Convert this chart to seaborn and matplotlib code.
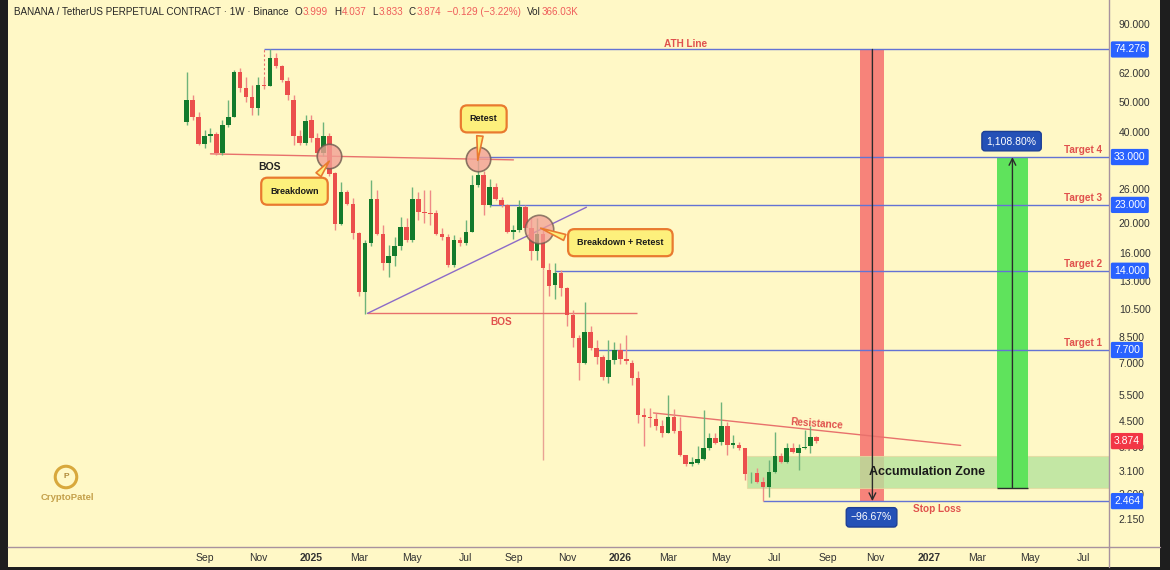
import numpy as np
import pandas as pd
import matplotlib
matplotlib.use("Agg")
import matplotlib.pyplot as plt
import matplotlib.dates as mdates
from matplotlib.patches import Rectangle
from matplotlib.lines import Line2D
from matplotlib.ticker import NullLocator
import seaborn as sns

# ---------------- data ----------------
first_week = "2024-08-12"
open_ = [43.1, 50.7, 44.7, 36.3, 38.8, 39.2, 33.9, 42.0, 44.7, 62.5,
         55.4, 52.0, 47.7, 56.8, 56.5, 69.7, 65.6, 58.5, 50.7, 38.8,
         36.8, 43.6, 38.0, 33.9, 38.7, 29.2, 19.9, 25.3, 23.2, 18.6,
         11.9, 17.3, 24.0, 18.5, 14.8, 15.6, 16.9, 19.5, 17.7, 24.1,
         21.8, 21.6, 21.6, 18.5, 18.0, 14.6, 17.7, 17.2, 18.8, 26.7,
         28.8, 23.0, 26.3, 23.9, 22.9, 18.8, 19.0, 22.6, 19.3, 16.2,
         18.5, 14.1, 12.6, 13.8, 12.3, 10.0, 8.4, 7.0, 8.85, 7.8,
         7.33, 6.3, 7.15, 7.7, 7.2, 7.0, 6.25, 4.72, 4.64, 4.58,
         4.35, 4.13, 4.66, 4.17, 3.48, 3.27, 3.29, 3.38, 3.67, 3.96,
         3.85, 4.35, 3.77, 3.77, 3.67, 3.04, 3.04, 2.85, 2.75, 3.07,
         3.45, 3.31, 3.67, 3.55, 3.69, 3.72, 3.999]
high = [62.8, 52.7, 46.5, 40.5, 41.1, 40.0, 43.6, 50.7, 63.6, 64.4,
        60.3, 56.8, 60.3, 60.0, 74.28, 72.5, 66.1, 60.3, 52.7, 40.5,
        45.3, 45.3, 39.5, 43.1, 39.5, 29.5, 27.3, 25.7, 24.2, 18.8,
        17.6, 27.7, 25.7, 19.8, 17.0, 18.1, 21.0, 20.9, 26.3, 25.3,
        25.7, 25.7, 22.1, 19.3, 18.5, 18.3, 18.0, 20.5, 28.8, 32.5,
        29.6, 28.0, 27.1, 24.5, 23.2, 19.8, 23.9, 23.0, 20.9, 20.9,
        19.3, 14.8, 14.8, 14.1, 12.4, 10.4, 8.6, 11.1, 9.2, 8.3,
        7.43, 8.3, 8.2, 8.1, 8.6, 7.15, 6.55, 4.97, 4.97, 4.79,
        4.55, 5.49, 4.94, 4.66, 3.50, 3.43, 3.72, 4.90, 4.12, 4.12,
        5.22, 4.49, 4.06, 3.86, 3.67, 3.07, 3.17, 2.96, 3.36, 4.16,
        3.53, 3.81, 3.81, 3.79, 4.22, 4.33, 4.037]
low = [42.0, 43.6, 36.1, 35.2, 37.0, 33.5, 33.5, 41.5, 44.5, 54.0,
       50.0, 45.3, 45.3, 55.0, 56.2, 64.5, 58.2, 50.7, 36.1, 36.1,
       36.1, 37.0, 32.7, 33.3, 28.5, 19.0, 19.8, 23.0, 17.8, 11.6,
       10.1, 16.9, 18.3, 14.1, 13.4, 14.5, 16.4, 17.4, 17.4, 20.5,
       20.0, 19.8, 18.3, 17.6, 14.4, 14.4, 16.9, 17.0, 18.7, 26.4,
       21.3, 22.7, 23.8, 22.7, 18.6, 17.8, 18.8, 19.0, 15.2, 15.2,
       14.1, 11.55, 11.3, 11.55, 9.2, 7.9, 6.15, 6.95, 7.7, 6.95,
       6.15, 6.0, 6.95, 6.95, 6.95, 5.92, 4.44, 3.72, 4.32, 4.22,
       4.01, 4.11, 4.11, 3.45, 3.2, 3.20, 3.26, 3.36, 3.61, 3.80,
       3.77, 3.49, 3.67, 3.63, 2.89, 2.82, 2.82, 2.464, 2.55, 3.04,
       3.28, 3.28, 3.55, 3.12, 3.65, 3.54, 3.833]
close = [50.7, 44.7, 36.3, 38.8, 39.2, 33.9, 42.0, 44.7, 62.5, 55.4,
         52.0, 47.7, 56.8, 56.2, 69.7, 65.6, 59.0, 52.7, 38.8, 36.6,
         43.2, 38.0, 33.9, 38.7, 29.1, 19.9, 25.3, 23.2, 18.6, 11.9,
         17.3, 24.0, 18.5, 14.8, 15.6, 16.9, 19.5, 17.7, 24.1, 21.8,
         21.6, 21.5, 18.5, 18.0, 14.6, 17.7, 17.2, 18.8, 26.7, 28.8,
         23.0, 26.3, 24.0, 22.9, 18.8, 19.0, 22.6, 19.3, 16.2, 18.5,
         14.3, 12.5, 13.8, 12.3, 10.0, 8.4, 7.0, 8.85, 7.8, 7.33,
         6.3, 7.15, 7.7, 7.2, 7.1, 6.25, 4.72, 4.64, 4.61, 4.35,
         4.13, 4.66, 4.17, 3.48, 3.26, 3.32, 3.38, 3.67, 3.96, 3.83,
         4.35, 3.77, 3.81, 3.67, 3.02, 3.05, 2.85, 2.75, 3.07, 3.45,
         3.31, 3.67, 3.56, 3.67, 3.71, 3.999, 3.874]

ath_price = 74.276
ath_start = "2024-11-11"
target_prices = [7.7, 14.0, 23.0, 33.0]
target_names = ["Target 1", "Target 2", "Target 3", "Target 4"]
target_starts = ["2025-12-08", "2025-10-20", "2025-08-04", "2025-07-21"]
stop_loss = 2.464
stop_start = "2026-06-22"
last_price = 3.874
zone_low, zone_high, zone_start = 2.73, 3.46, "2026-06-03"
drop_label, gain_label = "\u221296.67%", "1,108.80%"
ytick_vals = [90, 62, 50, 40, 26, 20, 16, 13, 10.5, 8.5, 7, 5.5, 4.5, 3.7, 3.1, 2.6, 2.15]
header_parts = [("BANANA / TetherUS PERPETUAL CONTRACT \u00b7 1W \u00b7 Binance", "k"),
                ("O", "k"), ("3.999", "r"), ("H", "k"), ("4.037", "r"),
                ("L", "k"), ("3.833", "r"), ("C", "k"), ("3.874", "r"),
                ("\u22120.129 (\u22123.22%)", "r"), ("Vol", "k"), ("366.03K", "r")]

# ---------------- style ----------------
sns.set_theme(style="white")
plt.rcParams["font.family"] = ["Liberation Sans", "DejaVu Sans"]

W, H = 1170, 570
CREAM = "#FFF8C6"
RED_C = "#EB4F4C"
GREEN_C = "#137A2C"
RED_W = "#EE8A86"
GREEN_W = "#6FB37A"
TXT_RED = "#E0514D"
BLUE_L = "#6373D4"
LINE_RED = "#E8716C"
SEP = "#A8929E"
YEL = "#FDF07C"
ORG = "#E97A2F"
TAG_BLUE = "#2962FF"

fig = plt.figure(figsize=(W / 100, H / 100), dpi=100)
fig.patch.set_facecolor("#1E1E1E")
fig.patches.append(Rectangle((8 / W, 3 / H), 1152 / W, 567 / H, transform=fig.transFigure,
                             facecolor=CREAM, edgecolor="none", zorder=-5))
ax = fig.add_axes([8 / W, 23 / H, 1101 / W, 547 / H])
ax.set_facecolor(CREAM)

dates = pd.date_range(first_week, periods=len(close), freq="7D")
xd = mdates.date2num(dates)
def dn(s):
    return mdates.date2num(pd.Timestamp(s))

o = np.array(open_); c = np.array(close); h = np.array(high); l = np.array(low)
up = c >= o
cols = np.where(up, GREEN_C, RED_C)
wcols = np.where(up, GREEN_W, RED_W)

# candles
ax.vlines(xd, l, h, colors=wcols, lw=1.0, zorder=4)
ax.bar(xd, np.abs(c - o), bottom=np.minimum(o, c), width=5.3, color=cols, linewidth=0, zorder=5)

ax.set_yscale("log")
x0 = xd[0]
ax.set_xlim(x0 - 210.6, x0 + 1086.8)
ax.set_ylim(1.743, 107.85)

# ---- horizontal level lines ----
ax.hlines(ath_price, dn(ath_start), ax.get_xlim()[1], color=BLUE_L, lw=1.0, zorder=3)
ax.vlines(dn(ath_start), 57.5, ath_price, color=LINE_RED, lw=0.8, ls=(0, (2, 2)), zorder=3)
ax.text(dn("2026-03-23"), 77.6, "ATH Line", color=TXT_RED, fontsize=7.2, fontweight="bold",
        ha="center", va="center")
for p, nm, st in zip(target_prices, target_names, target_starts):
    ax.hlines(p, dn(st), ax.get_xlim()[1], color=BLUE_L, lw=1.0, zorder=3)
    ax.text(dn("2027-07-27"), p * 1.055, nm, color=TXT_RED, fontsize=7.2, fontweight="bold",
            ha="right", va="center")
ax.hlines(stop_loss, dn(stop_start), ax.get_xlim()[1], color=BLUE_L, lw=1.0, zorder=3)
ax.text(dn("2027-01-13"), 2.32, "Stop Loss", color=TXT_RED, fontsize=7.2, fontweight="bold",
        ha="center", va="center")

# BOS lines
ax.plot([dn("2024-09-09"), dn("2025-09-01")], [33.8, 32.3], color=LINE_RED, lw=1.0, zorder=3)
ax.text(dn("2024-11-18"), 30.6, "BOS", color="#222222", fontsize=7.5, fontweight="bold",
        ha="center", va="center")
ax.hlines(10.15, dn("2025-03-13"), dn("2026-01-25"), color=LINE_RED, lw=1.0, zorder=3)
ax.text(dn("2025-08-18"), 9.5, "BOS", color=TXT_RED, fontsize=7.2, fontweight="bold",
        ha="center", va="center")
# rising trend line
ax.plot([dn("2025-03-13"), dn("2025-11-26")], [10.15, 22.6], color="#8C6BC8", lw=1.0, zorder=3)
# vertical breakdown marker
ax.vlines(dn("2025-10-06"), 3.36, 14.1, color="#E9A293", lw=1.0, zorder=2)
# resistance
ax.plot([dn("2026-02-13"), dn("2027-02-10")], [4.79, 3.75], color=LINE_RED, lw=1.0, zorder=3)
ax.text(dn("2026-08-25"), 4.41, "Resistance", color=TXT_RED, fontsize=7.2, fontweight="bold",
        ha="center", va="center", rotation=-4)

# ---- zones / measure bars ----
ax.bar(dn("2026-10-29"), ath_price - stop_loss, bottom=stop_loss, width=28.3,
       color="#F7837A", linewidth=0, zorder=1)
ax.add_patch(Rectangle((dn(zone_start), zone_low), ax.get_xlim()[1] - dn(zone_start),
                       zone_high - zone_low, facecolor="#B5E39C", alpha=0.8,
                       edgecolor="#E6D9A0", lw=0.8, zorder=1.5))
gain_bottom = target_prices[-1] / (1 + 11.088)
ax.bar(dn("2027-04-12"), target_prices[-1] - gain_bottom, bottom=gain_bottom, width=36.5,
       color="#5FE35C", linewidth=0, zorder=2)
ax.hlines(gain_bottom, dn("2027-03-25"), dn("2027-04-30"), color="#2B2B2B", lw=1.0, zorder=3)
ax.annotate("", xy=(dn("2026-10-29"), stop_loss), xytext=(dn("2026-10-29"), ath_price),
            arrowprops=dict(arrowstyle="->", color="#2B2B2B", lw=1.0, shrinkA=0, shrinkB=0), zorder=3)
ax.annotate("", xy=(dn("2027-04-12"), target_prices[-1]), xytext=(dn("2027-04-12"), gain_bottom),
            arrowprops=dict(arrowstyle="->", color="#2B2B2B", lw=1.0, shrinkA=0, shrinkB=0), zorder=3)
ax.text(dn("2027-01-01"), 3.07, "Accumulation Zone", color="#1A1A1A", fontsize=9,
        fontweight="bold", ha="center", va="center", zorder=6)
ax.text(dn("2026-10-28"), 2.18, drop_label, color="white", fontsize=7.5, ha="center", va="center",
        bbox=dict(boxstyle="round,pad=0.45,rounding_size=0.3", fc="#2451B7", ec="#1D3F96"), zorder=7)
ax.text(dn("2027-04-11"), 37.2, gain_label, color="white", fontsize=7.5, ha="center", va="center",
        bbox=dict(boxstyle="round,pad=0.45,rounding_size=0.3", fc="#2451B7", ec="#1D3F96"), zorder=7)

# ---- circles ----
circ = pd.DataFrame({"x": [dn("2025-01-27"), dn("2025-07-21")], "y": [33.2, 32.5]})
sns.scatterplot(data=circ, x="x", y="y", s=310, color="#F2A095", edgecolor="#6E5A4E",
                linewidth=1.2, alpha=0.8, zorder=6, ax=ax, legend=False)
sns.scatterplot(x=[dn("2025-10-01")], y=[19.2], s=420, color="#F2A095", edgecolor="#6E5A4E",
                linewidth=1.2, alpha=0.75, zorder=6, ax=ax, legend=False)

# ---- callouts ----
def callout(txt, xy, xyt, relpos):
    ax.annotate(txt, xy=xy, xytext=xyt, ha="center", va="center", fontsize=6.5,
                fontweight="bold", color="#1A1A1A", zorder=8,
                bbox=dict(boxstyle="round,pad=1.0,rounding_size=0.7", fc=YEL, ec=ORG, lw=1.6),
                arrowprops=dict(arrowstyle="wedge,tail_width=0.7,shrink_factor=0.5", fc=YEL,
                                ec=ORG, lw=1.2, relpos=relpos, shrinkB=0))
callout("Breakdown", (dn("2025-01-27"), 32.0), (dn("2024-12-17"), 25.5), (0.8, 1.0))
callout("Retest", (dn("2025-07-21"), 32.2), (dn("2025-07-28"), 44.0), (0.4, 0.0))
callout("Breakdown + Retest", (dn("2025-10-03"), 19.3), (dn("2026-01-05"), 17.3), (0.0, 0.55))

# ---- axes styling ----
ax.set_xlabel(""); ax.set_ylabel("")
for s in ["top", "left"]:
    ax.spines[s].set_visible(False)
for s in ["right", "bottom"]:
    ax.spines[s].set_color(SEP); ax.spines[s].set_linewidth(1.0)
ax.grid(False)
ax.yaxis.tick_right()
ax.set_yticks(ytick_vals)
ax.set_yticklabels([f"{v:.3f}" for v in ytick_vals])
ax.yaxis.set_minor_locator(NullLocator())
ax.tick_params(axis="y", length=0, pad=7, labelsize=7.5, labelcolor="#333333")

months = pd.date_range("2024-09-01", "2027-07-01", freq="2MS")
tick_dates = [m + pd.Timedelta(days=(7 - m.weekday()) % 7) for m in months]
tick_labels = [str(m.year) if m.month == 1 else m.strftime("%b") for m in months]
ax.set_xticks(mdates.date2num(tick_dates))
ax.set_xticklabels(tick_labels)
ax.xaxis.set_minor_locator(NullLocator())
ax.tick_params(axis="x", length=0, pad=4, labelsize=7.5, labelcolor="#333333")
for lab in ax.get_xticklabels():
    if lab.get_text().isdigit():
        lab.set_fontweight("bold")

fig.add_artist(Line2D([1109 / W, 1109 / W], [3 / H, 23 / H], color=SEP, lw=1.0))
fig.add_artist(Line2D([1109 / W, 1160 / W], [23 / H, 23 / H], color=SEP, lw=1.0))

# price tags
def price_tag(p, txt, color):
    ax.text(1.0045, p, txt, transform=ax.get_yaxis_transform(), ha="left", va="center",
            fontsize=7.5, color="white", clip_on=False, zorder=10,
            bbox=dict(boxstyle="round,pad=0.3,rounding_size=0.15", fc=color, ec="none"))
price_tag(ath_price, "74.276", TAG_BLUE)
for p in target_prices:
    price_tag(p, f"{p:.3f}", TAG_BLUE)
price_tag(stop_loss, "2.464", TAG_BLUE)
price_tag(last_price, "3.874", "#F23645")

# logo
ax.scatter([(66 - 8) / 1101], [(547 - 477) / 547], s=240, facecolors="none",
           edgecolors="#D8A83C", linewidths=2.2, transform=ax.transAxes, zorder=6)
ax.text((66 - 8) / 1101, (547 - 477) / 547, "P", transform=ax.transAxes, fontsize=6,
        color="#B08A3A", ha="center", va="center", fontweight="bold")
ax.text((67 - 8) / 1101, (547 - 497) / 547, "CryptoPatel", transform=ax.transAxes,
        fontsize=6.8, color="#C4A04A", ha="center", va="center", fontweight="bold")

# header
r = fig.canvas.get_renderer()
probe = fig.text(0, 0, header_parts[0][0], fontsize=8)
w0 = probe.get_window_extent(renderer=r).width
probe.remove()
fs = 8 * 277 / w0
x = 14.0
for i, (txt, kind) in enumerate(header_parts):
    t = fig.text(x / W, 1 - 12 / H, txt, fontsize=fs, va="center", ha="left",
                 color="#262626" if kind == "k" else "#EF5D5A")
    bb = t.get_window_extent(renderer=r)
    nxt = header_parts[i + 1][1] if i + 1 < len(header_parts) else "k"
    gap = 0.5 if (kind == "k" and nxt == "r" and txt in ("O", "H", "L", "C", "Vol")) else 6
    x += bb.width + gap

fig.savefig("out.png", dpi=100, facecolor=fig.get_facecolor())
